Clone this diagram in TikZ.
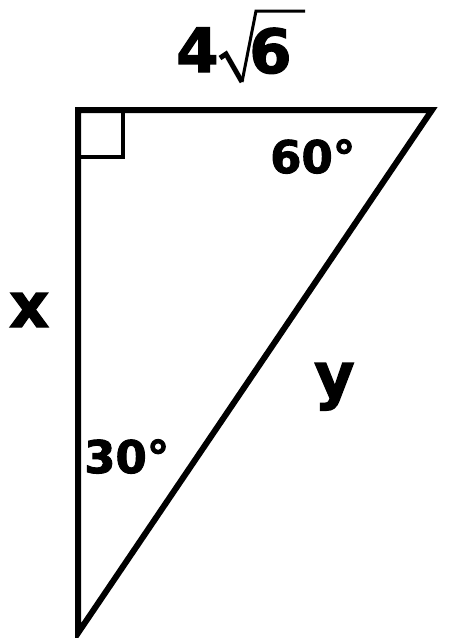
\documentclass[tikz,border=0pt]{standalone}
\usepackage{fontspec}
\setmainfont{DejaVu Sans}
\newfontfamily\heavyfont[FakeBold=2]{DejaVu Sans Bold}
\begin{document}
\begin{tikzpicture}[x=1pt,y=-1pt,
  lbl/.style={inner sep=0pt, anchor=base west, font=\heavyfont\fontsize{45}{50}\selectfont},
  big/.style={inner sep=0pt, anchor=base west, font=\heavyfont\fontsize{61}{66}\selectfont},
  var/.style={inner sep=0pt, anchor=base west, font=\heavyfont\fontsize{62}{66}\selectfont},
  edge/.style={line width=6pt, line join=miter},
  rbox/.style={line width=4pt}]
\useasboundingbox (0,0) rectangle (448,638);
\coordinate (A) at (78,110);
\coordinate (B) at (432,110);
\coordinate (C) at (78,633);
\draw[edge] (A) -- (B) -- (C) -- cycle;
\coordinate (s1) at (123,110);
\coordinate (s2) at (123,157);
\coordinate (s3) at (78,157);
\draw[rbox] (s1) -- (s2) -- (s3);
\node[big] (four) at (176,72) {4};
\node[big] (six) at (249,73) {6};
\coordinate (r1) at (220,58);
\coordinate (r2) at (226,54);
\coordinate (r3) at (242,82);
\coordinate (r4) at (256,11);
\coordinate (r5) at (305,11);
\draw[line width=5pt, line join=miter] (r1) -- (r2) -- (r3);
\draw[line width=3pt, line join=miter] (r3) -- (r4) -- (r5);
\node[lbl] (a60) at (270,173) {60°};
\node[lbl] (a30) at (84,473) {30°};
\node[var] (x) at (9,327) {x};
\node[var] (y) at (314,397) {y};
\end{tikzpicture}
\end{document}
